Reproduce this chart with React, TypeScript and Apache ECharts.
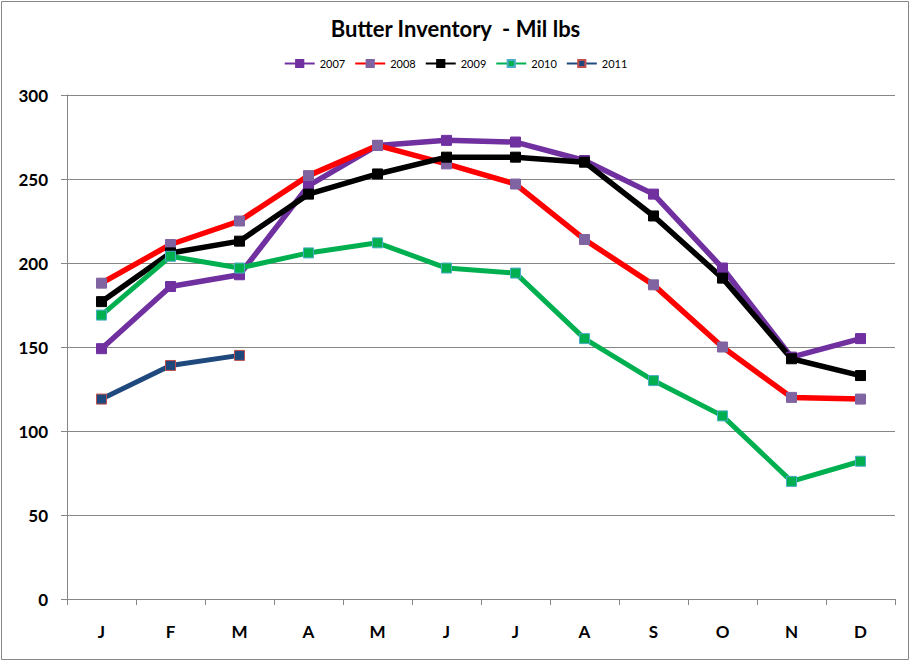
import React, { useEffect, useRef } from "react";
import * as echarts from "echarts";

const months = ["J", "F", "M", "A", "M", "J", "J", "A", "S", "O", "N", "D"];
const s2007 = [149, 186, 193, 246, 270, 273, 272, 261, 241, 197, 144, 155];
const s2008 = [188, 211, 225, 252, 270, 259, 247, 214, 187, 150, 120, 119];
const s2009 = [177, 206, 213, 241, 253, 263, 263, 260, 228, 191, 143, 133];
const s2010 = [169, 204, 197, 206, 212, 197, 194, 155, 130, 109, 70, 82];
const s2011 = [119, 139, 145];
const yTicks = [0, 50, 100, 150, 200, 250, 300];

const FONT = "Lato, 'Liberation Sans', sans-serif";

export default function App() {
  const ref = useRef<HTMLDivElement>(null);
  useEffect(() => {
    document.body.style.margin = "0";
    const chart = echarts.init(ref.current!, null, { renderer: "svg" });
    const mk = (name: string, data: number[], line: string, marker: string, border: string, width: number) => ({
      name,
      type: "line",
      data,
      symbol: "rect",
      symbolSize: 10,
      lineStyle: { color: line, width },
      itemStyle: { color: marker, borderColor: border, borderWidth: 1 },
      emphasis: { disabled: true },
    });
    chart.setOption({
      animation: false,
      backgroundColor: "#ffffff",
      title: {
        text: "Butter Inventory  - Mil lbs",
        left: "center",
        top: 12,
        textStyle: { fontFamily: FONT, fontSize: 22, fontWeight: "bold", color: "#000" },
      },
      legend: {
        top: 53,
        left: "center",
        itemWidth: 30,
        itemHeight: 9,
        itemGap: 9,
        textStyle: { fontFamily: FONT, fontSize: 11, color: "#000" },
        data: ["2007", "2008", "2009", "2010", "2011"],
      },
      grid: { left: 67, right: 16, top: 95, bottom: 63 },
      xAxis: {
        type: "category",
        data: months,
        boundaryGap: true,
        axisLine: { lineStyle: { color: "#868686", width: 1 } },
        axisTick: { show: true, length: 6, alignWithLabel: false, lineStyle: { color: "#868686" } },
        axisLabel: { fontFamily: FONT, fontSize: 17, fontWeight: "bold", color: "#000", margin: 24 },
      },
      yAxis: {
        type: "value",
        min: yTicks[0],
        max: yTicks[yTicks.length - 1],
        interval: 50,
        axisLine: { show: true, lineStyle: { color: "#868686", width: 1 } },
        axisTick: { show: true, length: 6, lineStyle: { color: "#868686" } },
        splitLine: { lineStyle: { color: "#868686", width: 1 } },
        axisLabel: { fontFamily: FONT, fontSize: 17, fontWeight: "bold", color: "#000", margin: 19 },
      },
      graphic: [
        {
          type: "rect",
          shape: { x: 1.5, y: 1.5, width: 907, height: 658 },
          style: { fill: "none", stroke: "#868686", lineWidth: 1 },
          silent: true,
        },
      ],
      series: [
        mk("2007", s2007, "#7030A0", "#7030A0", "#7030A0", 5.5),
        mk("2008", s2008, "#FF0000", "#8064A2", "#8064A2", 5.5),
        mk("2009", s2009, "#000000", "#000000", "#000000", 5.5),
        mk("2010", s2010, "#00B050", "#00B050", "#4BACC6", 5),
        mk("2011", s2011, "#1F497D", "#1F497D", "#C0504D", 5),
      ],
    });
    return () => chart.dispose();
  }, []);
  return <div ref={ref} style={{ width: 911, height: 662 }} />;
}
